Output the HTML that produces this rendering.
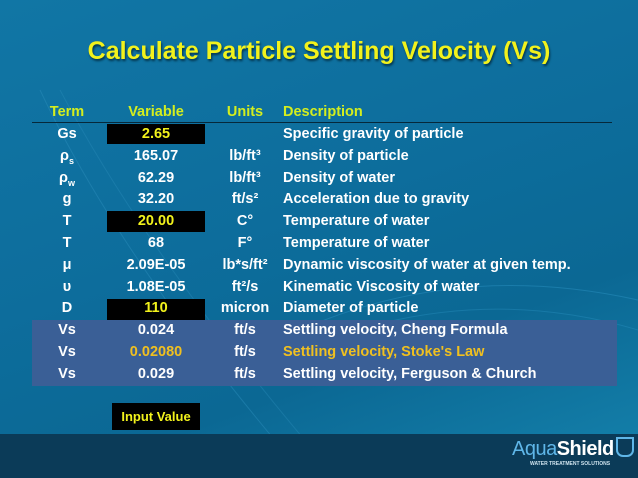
<!DOCTYPE html>
<html><head><meta charset="utf-8"><style>
body{margin:0;width:638px;height:478px;overflow:hidden;font-family:"Liberation Sans",sans-serif}
#s{position:relative;width:638px;height:478px;background:linear-gradient(160deg,#1176a5 0%,#0d6d9c 45%,#0b6894 70%,#1583ad 100%);overflow:hidden}
.t{position:absolute;left:0;width:638px;top:37px;text-align:center;color:#f2f21c;font-weight:bold;font-size:25px;text-shadow:1px 2px 2px #04344c}
.c{position:absolute;color:#fff;font-weight:bold;font-size:14.5px;line-height:22px;white-space:nowrap}
.c sub{line-height:0;font-size:9px}
.h{color:#d4ee1e}
.ctr{text-align:center}
.box{position:absolute;background:#000}
.y{color:#f2f21c}
.o{color:#f0c020}
</style></head><body>
<div id="s">
<svg style="position:absolute;left:0;top:0" width="638" height="478">
<path d="M40 90 Q120 260 300 470" stroke="#2a8cba" stroke-width="1" fill="none" opacity=".5"/>
<path d="M60 90 Q150 260 330 470" stroke="#2a8cba" stroke-width="1" fill="none" opacity=".4"/>
<path d="M300 330 Q460 260 638 300" stroke="#2a90c0" stroke-width="1" fill="none" opacity=".5"/>
<path d="M300 350 Q470 280 638 330" stroke="#2a90c0" stroke-width="1" fill="none" opacity=".4"/>
</svg>
<div class="t">Calculate Particle Settling Velocity (Vs)</div>
<div style="position:absolute;left:32px;top:122px;width:580px;height:1px;background:#06283a"></div>
<div style="position:absolute;left:32px;top:320px;width:585px;height:66px;background:#3a5f96"></div>
<div class="box" style="left:107px;top:124px;width:98px;height:20px"></div>
<div class="box" style="left:107px;top:211px;width:98px;height:21px"></div>
<div class="box" style="left:107px;top:299px;width:98px;height:21px"></div>
<div class="box" style="left:112px;top:403px;width:88px;height:27px"></div>
<div class="c y" style="left:112px;top:406px;width:88px;text-align:center;font-size:13px">Input Value</div>
<div style="position:absolute;left:0;top:434px;width:638px;height:44px;background:#0b3b58"></div>
<div style="position:absolute;left:512px;top:437px;color:#fff;font-size:20px;font-weight:bold;letter-spacing:-0.5px"><span style="color:#5fb6e8;font-weight:normal">Aqua</span>Shield<span style="display:inline-block;width:14px;height:16px;border:2px solid #5fb6e8;border-radius:0 0 7px 7px;vertical-align:-2px;margin-left:2px"></span></div>
<div style="position:absolute;left:530px;top:461px;color:#cfe3ee;font-size:5px;font-weight:bold">WATER TREATMENT SOLUTIONS</div>
</div>
<script>
var terms=["Gs","ρ<sub>s</sub>","ρ<sub>w</sub>","g","T","T","μ","υ","D","Vs","Vs","Vs"];
var vals=["2.65","165.07","62.29","32.20","20.00","68","2.09E-05","1.08E-05","110","0.024","0.02080","0.029"];
var units=["","lb/ft³","lb/ft³","ft/s²","C°","F°","lb*s/ft²","ft²/s","micron","ft/s","ft/s","ft/s"];
var descs=["Specific gravity of particle","Density of particle","Density of water","Acceleration due to gravity","Temperature of water","Temperature of water","Dynamic viscosity of water at given temp.","Kinematic Viscosity of water","Diameter of particle","Settling velocity, Cheng Formula","Settling velocity, Stoke's Law","Settling velocity, Ferguson & Church"];
var valCls=["y","","","","y","","","","y","","o",""];
var descCls=["","","","","","","","","","","o",""];
var slide=document.getElementById('s');
function cell(html,left,w,yy,cls,name,center){
 var d=document.createElement('div');
 d.className='c '+cls+(center?' ctr':'');
 d.style.left=left+'px';d.style.top=yy+'px';if(w)d.style.width=w+'px';
 d.innerHTML=html;
 
 
 slide.appendChild(d);
}
cell("Term",37,60,101,'h','header-term',true);
cell("Variable",107,98,101,'h','header-variable',true);
cell("Units",210,70,101,'h','header-units',true);
cell("Description",283,0,101,'h','header-description',false);
for(var i=0;i<terms.length;i++){
 var rowY=123+i*21.8;
 cell(terms[i],37,60,rowY,'','term-'+i,true);
 cell(vals[i],107,98,rowY,valCls[i],'value-'+i,true);
 cell(units[i],210,70,rowY,'','unit-'+i,true);
 cell(descs[i],283,0,rowY,descCls[i],'description-'+i,false);
}
</script>
</body></html>
